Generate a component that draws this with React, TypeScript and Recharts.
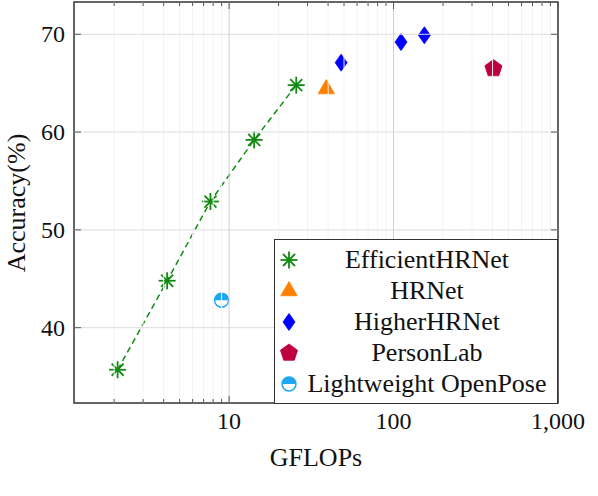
import {
  ScatterChart,
  Scatter,
  XAxis,
  YAxis,
  Legend,
  ReferenceArea,
} from "recharts";

// GFLOPs / accuracy
const effHRNetX = [2.1, 4.2, 7.7, 14.2, 25.6];
const effHRNetY = [35.7, 44.8, 52.9, 59.2, 64.8];
const hrNetX = [39];
const hrNetY = [64.4];
const higherHRNetX = [48, 111, 154];
const higherHRNetY = [67.1, 69.2, 69.9];
const personLabX = [405];
const personLabY = [66.5];
const openPoseX = [9];
const openPoseY = [42.8];

const xMajorTicks = [10, 100, 1000];
const xMinorTicks = [
  2, 3, 4, 5, 6, 7, 8, 9, 20, 30, 40, 50, 60, 70, 80, 90, 200, 300, 400, 500,
  600, 700, 800, 900,
];
const yTicks = [40, 50, 60, 70];
const xDomain = [1.14, 1000];
const yDomain = [32.3, 73.3];

const zip = (xs: number[], ys: number[]) => xs.map((x, i) => ({ x, y: ys[i] }));

const W = 598;
const H = 496;
const PLOT_LEFT = 74;
const PLOT_RIGHT = 558;
const PLOT_TOP = 2;
const PLOT_BOTTOM = 403;
const FONT = "Liberation Serif, Times New Roman, Times, serif";

const GREEN = "#128a12";
const ORANGE = "#ff8000";
const BLUE = "#0000ff";
const PURPLE = "#bf0040";
const CYAN = "#1ea6f0";

// ---- marker shapes ----
const Asterisk = ({ cx, cy }: any) => {
  const r = 8.5;
  const arms = [0, 45, 90, 135].map((a) => {
    const rad = (a * Math.PI) / 180;
    const dx = r * Math.cos(rad);
    const dy = r * Math.sin(rad);
    return (
      <line key={a} x1={cx - dx} y1={cy - dy} x2={cx + dx} y2={cy + dy} stroke={GREEN} strokeWidth={1.8} />
    );
  });
  return <g>{arms}</g>;
};

const Triangle = ({ cx, cy }: any) => {
  const r = 9.5;
  const pts = [0, 1, 2]
    .map((i) => {
      const a = -Math.PI / 2 + (i * 2 * Math.PI) / 3;
      return `${cx + r * Math.cos(a)},${cy + r * Math.sin(a)}`;
    })
    .join(" ");
  return <polygon points={pts} fill={ORANGE} stroke={ORANGE} strokeWidth={0.8} />;
};

const Diamond = ({ cx, cy }: any) => (
  <polygon
    points={`${cx},${cy - 8.5} ${cx + 6},${cy} ${cx},${cy + 8.5} ${cx - 6},${cy}`}
    fill={BLUE}
    stroke={BLUE}
    strokeWidth={0.8}
  />
);

const Pentagon = ({ cx, cy }: any) => {
  const r = 9;
  const pts = [0, 1, 2, 3, 4]
    .map((i) => {
      const a = -Math.PI / 2 + (i * 2 * Math.PI) / 5;
      return `${cx + r * Math.cos(a)},${cy + r * Math.sin(a)}`;
    })
    .join(" ");
  return <polygon points={pts} fill={PURPLE} stroke={PURPLE} strokeWidth={0.8} />;
};

const HalfCircle = ({ cx, cy }: any) => {
  const r = 7;
  return (
    <g>
      <circle cx={cx} cy={cy} r={r} fill="white" stroke={CYAN} strokeWidth={1.5} />
      <path d={`M ${cx - r} ${cy} A ${r} ${r} 0 0 1 ${cx + r} ${cy} Z`} fill={CYAN} />
    </g>
  );
};

const series = [
  { name: "EfficientHRNet", data: zip(effHRNetX, effHRNetY), shape: Asterisk },
  { name: "HRNet", data: zip(hrNetX, hrNetY), shape: Triangle },
  { name: "HigherHRNet", data: zip(higherHRNetX, higherHRNetY), shape: Diamond },
  { name: "PersonLab", data: zip(personLabX, personLabY), shape: Pentagon },
  { name: "Lightweight OpenPose", data: zip(openPoseX, openPoseY), shape: HalfCircle },
];

// ---- axis ticks with inward tick marks and grid ----
const XTick = ({ x, payload }: any) => {
  const v = payload.value;
  const major = xMajorTicks.includes(v);
  const len = major ? 7 : 4;
  return (
    <g>
      {v < 1000 && (
        <line x1={x} y1={PLOT_TOP} x2={x} y2={PLOT_BOTTOM} stroke={major ? "#cfcfcf" : "#f3f3f3"} strokeWidth={1} />
      )}
      <line x1={x} y1={PLOT_BOTTOM} x2={x} y2={PLOT_BOTTOM - len} stroke="#555" strokeWidth={1} />
      <line x1={x} y1={PLOT_TOP} x2={x} y2={PLOT_TOP + len} stroke="#555" strokeWidth={1} />
      {major && (
        <text x={x} y={PLOT_BOTTOM + 26} textAnchor="middle" style={{ fontFamily: FONT }} fontSize={24} fill="#111">
          {v.toLocaleString("en-US")}
        </text>
      )}
    </g>
  );
};

const YTick = ({ y, payload }: any) => (
  <g>
    <line x1={PLOT_LEFT} y1={y} x2={PLOT_RIGHT} y2={y} stroke="#dcdcdc" strokeWidth={1} />
    <line x1={PLOT_LEFT} y1={y} x2={PLOT_LEFT + 7} y2={y} stroke="#555" strokeWidth={1} />
    <line x1={PLOT_RIGHT} y1={y} x2={PLOT_RIGHT - 7} y2={y} stroke="#555" strokeWidth={1} />
    <text x={PLOT_LEFT - 9} y={y + 8} textAnchor="end" style={{ fontFamily: FONT }} fontSize={24} fill="#111">
      {payload.value}
    </text>
  </g>
);

// ---- legend ----
const LegendIcon = ({ shape: Shape }: any) => (
  <svg width={20} height={20} style={{ display: "block" }}>
    <Shape cx={10} cy={10} />
  </svg>
);

const LegendBox = () => (
  <div
    style={{
      boxSizing: "border-box",
      width: "100%",
      height: "100%",
      background: "white",
      border: "1.5px solid #333",
      padding: "4px 0",
      fontFamily: FONT,
      fontSize: 26,
      color: "#111",
    }}
  >
    {series.map((s) => (
      <div key={s.name} style={{ display: "flex", alignItems: "center", height: 31 }}>
        <div style={{ width: 28, paddingLeft: 4 }}>
          <LegendIcon shape={s.shape} />
        </div>
        <div style={{ flex: 1, textAlign: "center", paddingRight: 10, whiteSpace: "nowrap", lineHeight: "31px" }}>
          {s.name}
        </div>
      </div>
    ))}
  </div>
);

export default function App() {
  return (
    <div style={{ position: "absolute", left: 0, top: 0, width: W, height: H, background: "white", fontFamily: FONT }}>
      <ScatterChart
        width={W}
        height={H}
        margin={{ top: PLOT_TOP, right: W - PLOT_RIGHT, bottom: 0, left: 0 }}
        style={{ fontFamily: FONT }}
      >
        <XAxis
          type="number"
          dataKey="x"
          scale="log"
          domain={xDomain}
          ticks={[...xMinorTicks, ...xMajorTicks]}
          allowDataOverflow
          height={H - PLOT_BOTTOM}
          axisLine={false}
          tickLine={false}
          tick={<XTick />}
          interval={0}
          label={{
            value: "GFLOPs",
            position: "insideBottom",
            offset: 30,
            style: { fontFamily: FONT, fontSize: 26, fill: "#111" },
          }}
        />
        <YAxis
          type="number"
          dataKey="y"
          domain={yDomain}
          ticks={yTicks}
          allowDataOverflow
          width={PLOT_LEFT}
          axisLine={false}
          tickLine={false}
          tick={<YTick />}
          interval={0}
          label={{
            content: () => (
              <text
                x={25}
                y={203}
                transform="rotate(-90, 25, 203)"
                textAnchor="middle"
                style={{ fontFamily: FONT }}
                fontSize={26}
                fill="#111"
              >
                Accuracy(%)
              </text>
            ),
          }}
        />
        <ReferenceArea
          x1={xDomain[0]}
          x2={xDomain[1]}
          y1={yDomain[0]}
          y2={yDomain[1]}
          fill="none"
          stroke="#333"
          strokeWidth={1.5}
          ifOverflow="visible"
        />
        {series.map((s, i) => (
          <Scatter
            key={s.name}
            name={s.name}
            data={s.data}
            shape={s.shape}
            isAnimationActive={false}
            line={i === 0 ? { stroke: GREEN, strokeWidth: 1.5, strokeDasharray: "6 4" } : undefined}
          />
        ))}
        <Legend
          layout="vertical"
          align="center"
          verticalAlign="middle"
          content={() => <LegendBox />}
          wrapperStyle={{ left: 274, top: 239, width: 284, height: 165 }}
        />
      </ScatterChart>
    </div>
  );
}
